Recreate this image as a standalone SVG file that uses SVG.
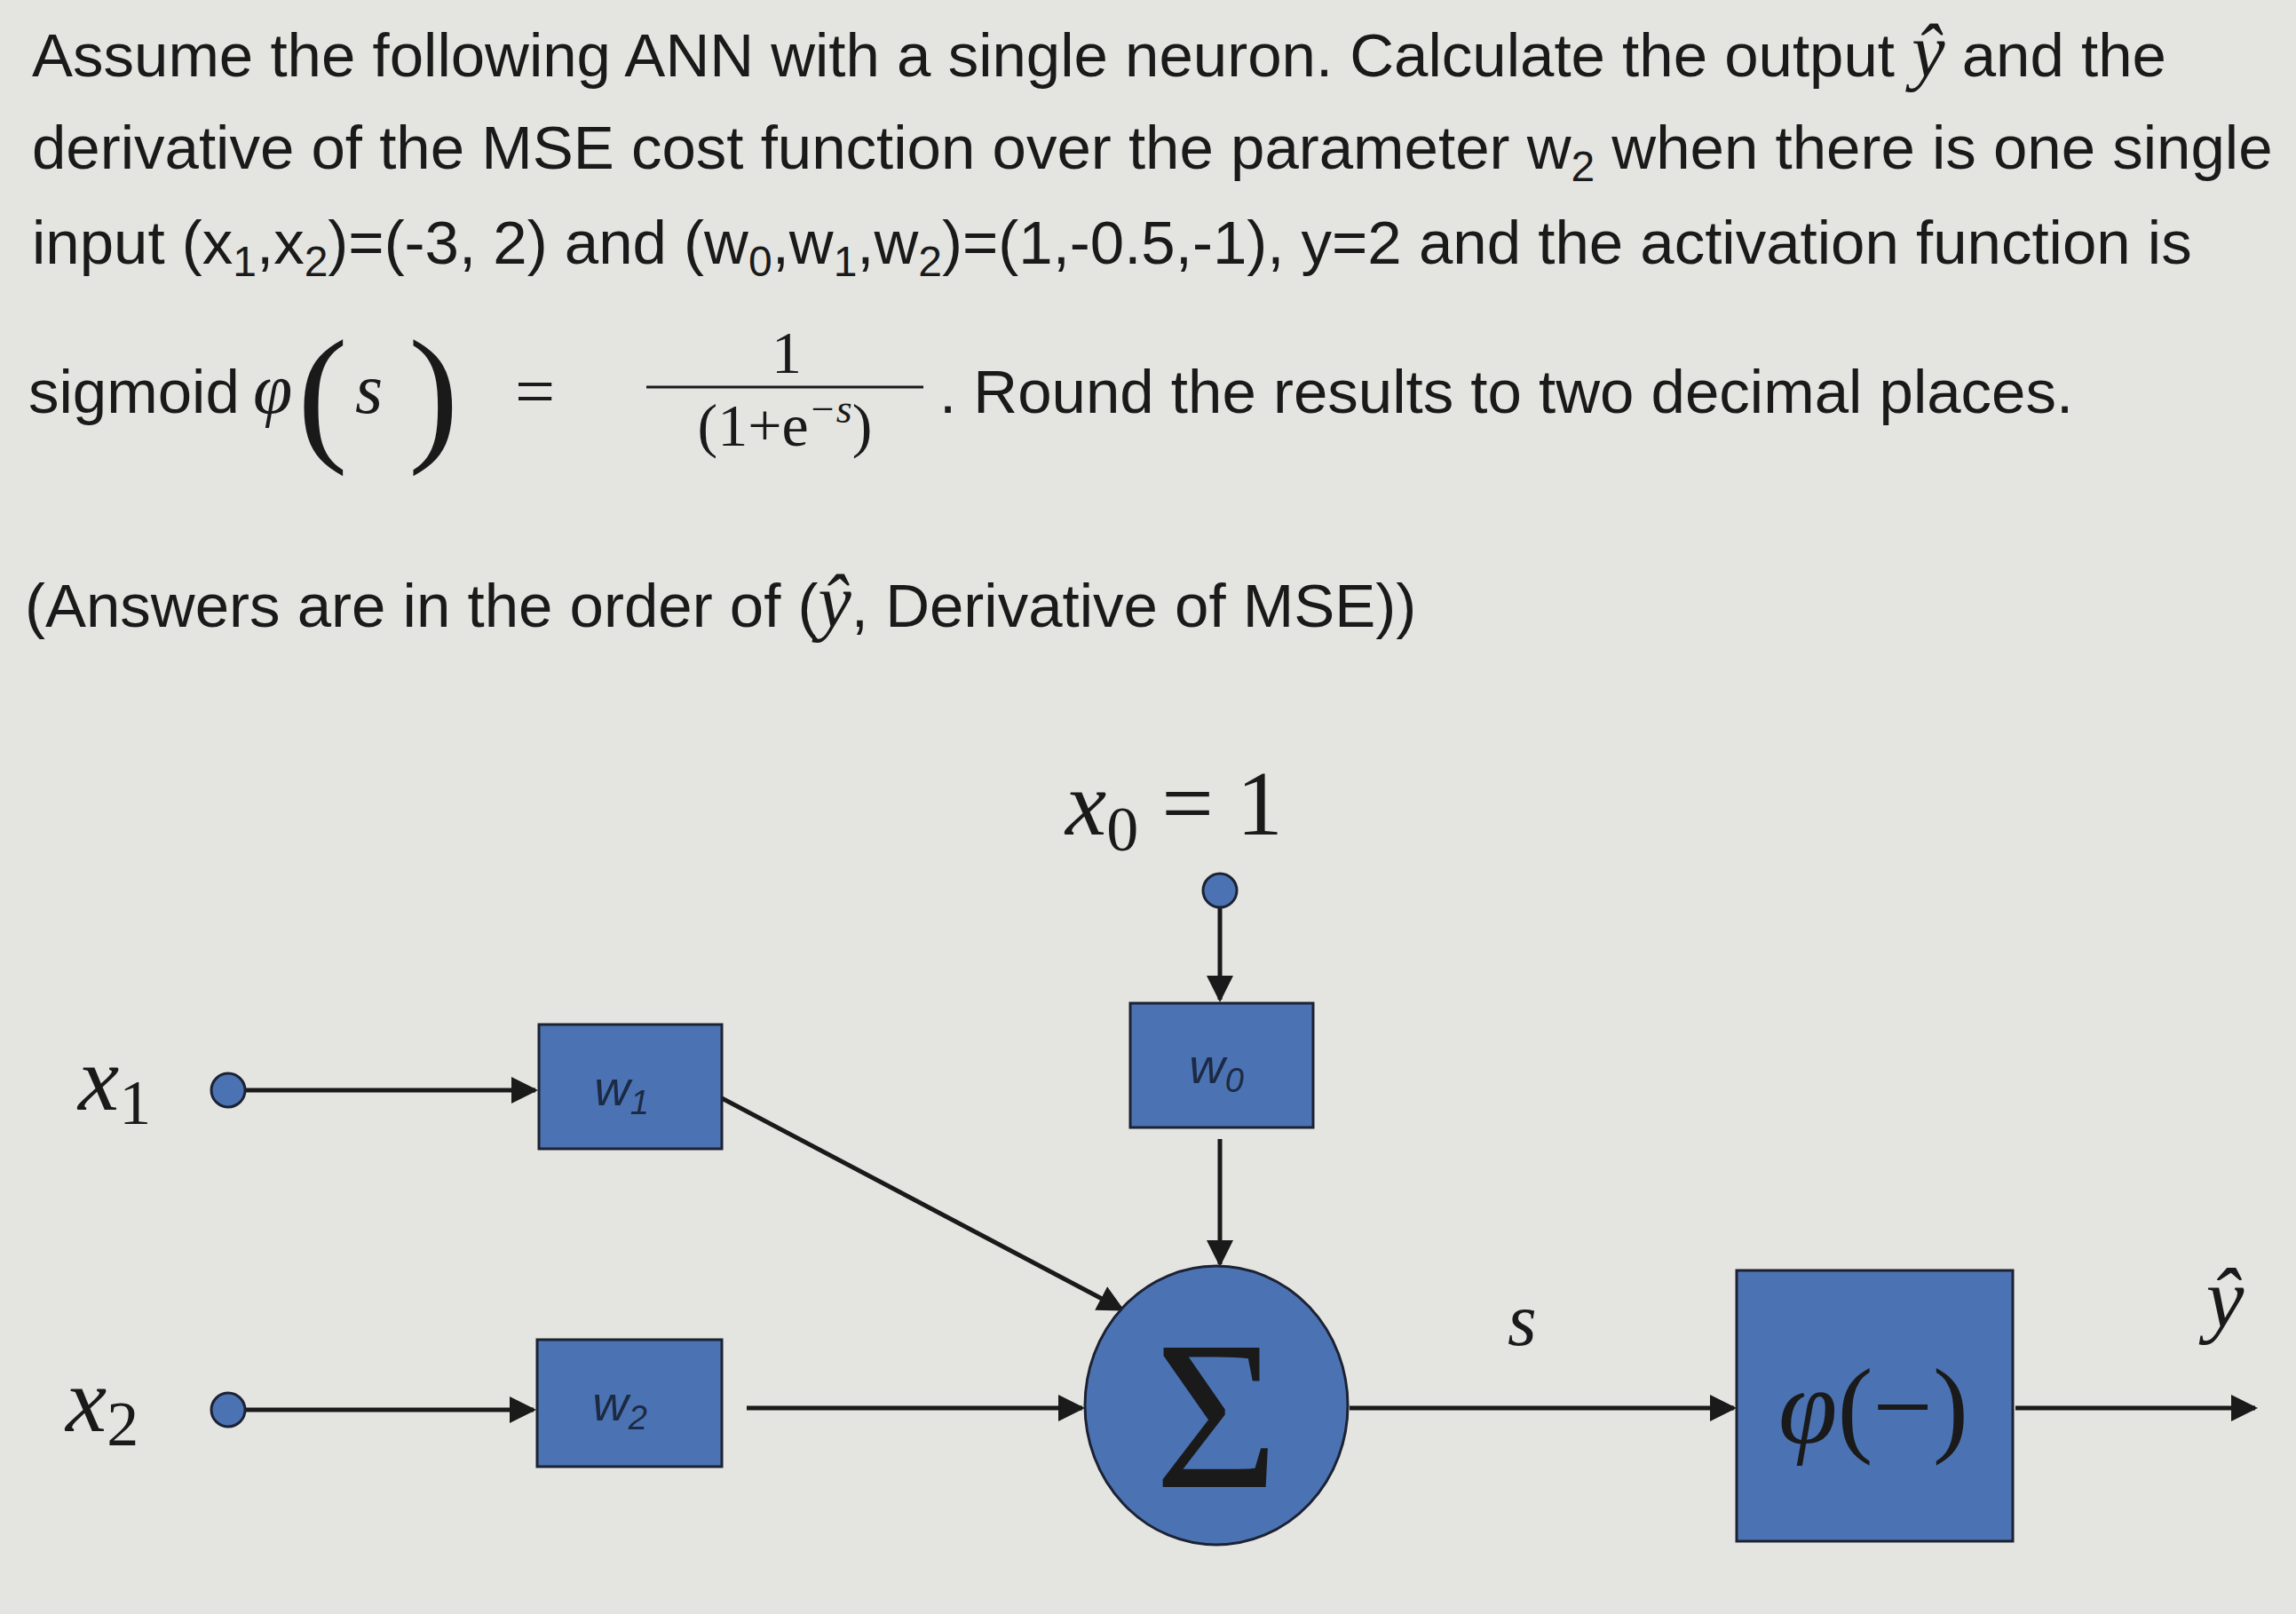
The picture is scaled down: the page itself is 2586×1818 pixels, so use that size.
<svg xmlns="http://www.w3.org/2000/svg" width="2586" height="1818" viewBox="0 0 2586 1818">
<style>
.t{font-family:"Liberation Sans",Arial,sans-serif;font-size:69px;fill:#1a1a1a}
.m{font-family:"Liberation Serif","Times New Roman",serif;fill:#1a1a1a}
.box{fill:#4b73b3;stroke:#1c2233;stroke-width:3}
.ln{stroke:#1a1a1a;stroke-width:5;fill:none}
.w{font-family:"Liberation Sans",Arial,sans-serif;font-style:italic;font-size:56px;fill:#1c2a44}
</style>
<defs>
<marker id="ah" viewBox="0 0 10 10" refX="9" refY="5" markerWidth="6" markerHeight="6" orient="auto" markerUnits="strokeWidth"><path d="M0,0 L10,5 L0,10 z" fill="#1a1a1a"/></marker>
</defs>
<rect width="2586" height="1818" fill="#e4e4e1"/>
<g id="question">
<text class="t" x="36" y="86">Assume the following ANN with a single neuron. Calculate the output <tspan class="m" font-style="italic" font-size="84">ŷ</tspan> and the</text>
<text class="t" x="36" y="190">derivative of the MSE cost function over the parameter w<tspan font-size="48" dy="14">2</tspan><tspan dy="-14"> when there is one single</tspan></text>
<text class="t" x="36" y="297">input (x<tspan font-size="48" dy="14">1</tspan><tspan dy="-14">,x</tspan><tspan font-size="48" dy="14">2</tspan><tspan dy="-14">)=(-3, 2) and (w</tspan><tspan font-size="48" dy="14">0</tspan><tspan dy="-14">,w</tspan><tspan font-size="48" dy="14">1</tspan><tspan dy="-14">,w</tspan><tspan font-size="48" dy="14">2</tspan><tspan dy="-14">)=(1,-0.5,-1), y=2 and the activation function is</tspan></text>
<text class="t" x="32" y="465">sigmoid</text>
<text class="m" x="285" y="465" font-size="80" font-style="italic">φ</text>
<text class="m" x="335" y="500" font-size="170">(</text>
<text class="m" x="400" y="465" font-size="80" font-style="italic">s</text>
<text class="m" x="460" y="500" font-size="170">)</text>
<text class="m" x="580" y="468" font-size="80">=</text>
<text class="m" x="886" y="420" font-size="68" text-anchor="middle">1</text>
<line x1="728" y1="436" x2="1040" y2="436" stroke="#1a1a1a" stroke-width="3"/>
<text class="m" x="884" y="502" font-size="68" text-anchor="middle">(1+e<tspan font-size="46" dy="-26" font-style="italic">−s</tspan><tspan dy="26">)</tspan></text>
<text class="t" x="1058" y="465">. Round the results to two decimal places.</text>
<text class="t" x="28" y="706">(Answers are in the order of (<tspan class="m" font-style="italic" font-size="84">ŷ</tspan>, Derivative of MSE))</text>
</g>
<g id="connectors">
<line class="ln" x1="277" y1="1228" x2="603" y2="1228" marker-end="url(#ah)"/>
<line class="ln" x1="277" y1="1588" x2="601" y2="1588" marker-end="url(#ah)"/>
<line class="ln" x1="1374" y1="1021" x2="1374" y2="1126" marker-end="url(#ah)"/>
<line class="ln" x1="813" y1="1237" x2="1264" y2="1475" marker-end="url(#ah)"/>
<line class="ln" x1="1374" y1="1283" x2="1374" y2="1424" marker-end="url(#ah)"/>
<line class="ln" x1="841" y1="1586" x2="1219" y2="1586" marker-end="url(#ah)"/>
<line class="ln" x1="1520" y1="1586" x2="1953" y2="1586" marker-end="url(#ah)"/>
<line class="ln" x1="2270" y1="1586" x2="2540" y2="1586" marker-end="url(#ah)"/>
</g>
<g id="x0">
<text class="m" x="1200" y="940" font-size="104" font-style="italic">x<tspan font-style="normal" font-size="72" dy="18">0</tspan><tspan font-style="normal" dy="-18"> = 1</tspan></text>
<circle cx="1374" cy="1003" r="19" class="box"/>
</g>
<g id="x1">
<text class="m" x="88" y="1250" font-size="104" font-style="italic">x<tspan font-style="normal" font-size="72" dy="16">1</tspan></text>
<circle cx="257" cy="1228" r="19" class="box"/>
</g>
<g id="x2">
<text class="m" x="74" y="1612" font-size="104" font-style="italic">x<tspan font-style="normal" font-size="72" dy="16">2</tspan></text>
<circle cx="257" cy="1588" r="19" class="box"/>
</g>
<g id="w1"><rect class="box" x="607" y="1154" width="206" height="140"/><text class="w" x="700" y="1245" text-anchor="middle">w<tspan font-size="38" dy="10">1</tspan></text></g>
<g id="w2"><rect class="box" x="605" y="1509" width="208" height="143"/><text class="w" x="698" y="1600" text-anchor="middle">w<tspan font-size="38" dy="10">2</tspan></text></g>
<g id="w0"><rect class="box" x="1273" y="1130" width="206" height="140"/><text class="w" x="1370" y="1220" text-anchor="middle">w<tspan font-size="38" dy="10">0</tspan></text></g>
<g id="sum"><ellipse class="box" cx="1370" cy="1583" rx="148" ry="157" stroke-width="5"/><text class="m" x="1370" y="1675" font-size="240" text-anchor="middle" fill="#111">Σ</text></g>
<g id="s"><text class="m" x="1698" y="1515" font-size="84" font-style="italic">s</text></g>
<g id="phi"><rect class="box" x="1956" y="1431" width="311" height="305" stroke-width="5"/><text class="m" x="2110" y="1625" font-size="120" text-anchor="middle" fill="#111"><tspan font-style="italic">φ</tspan>(−)</text></g>
<g id="yhat"><text class="m" x="2506" y="1495" font-size="96" font-style="italic" text-anchor="middle">ŷ</text></g>
</svg>
